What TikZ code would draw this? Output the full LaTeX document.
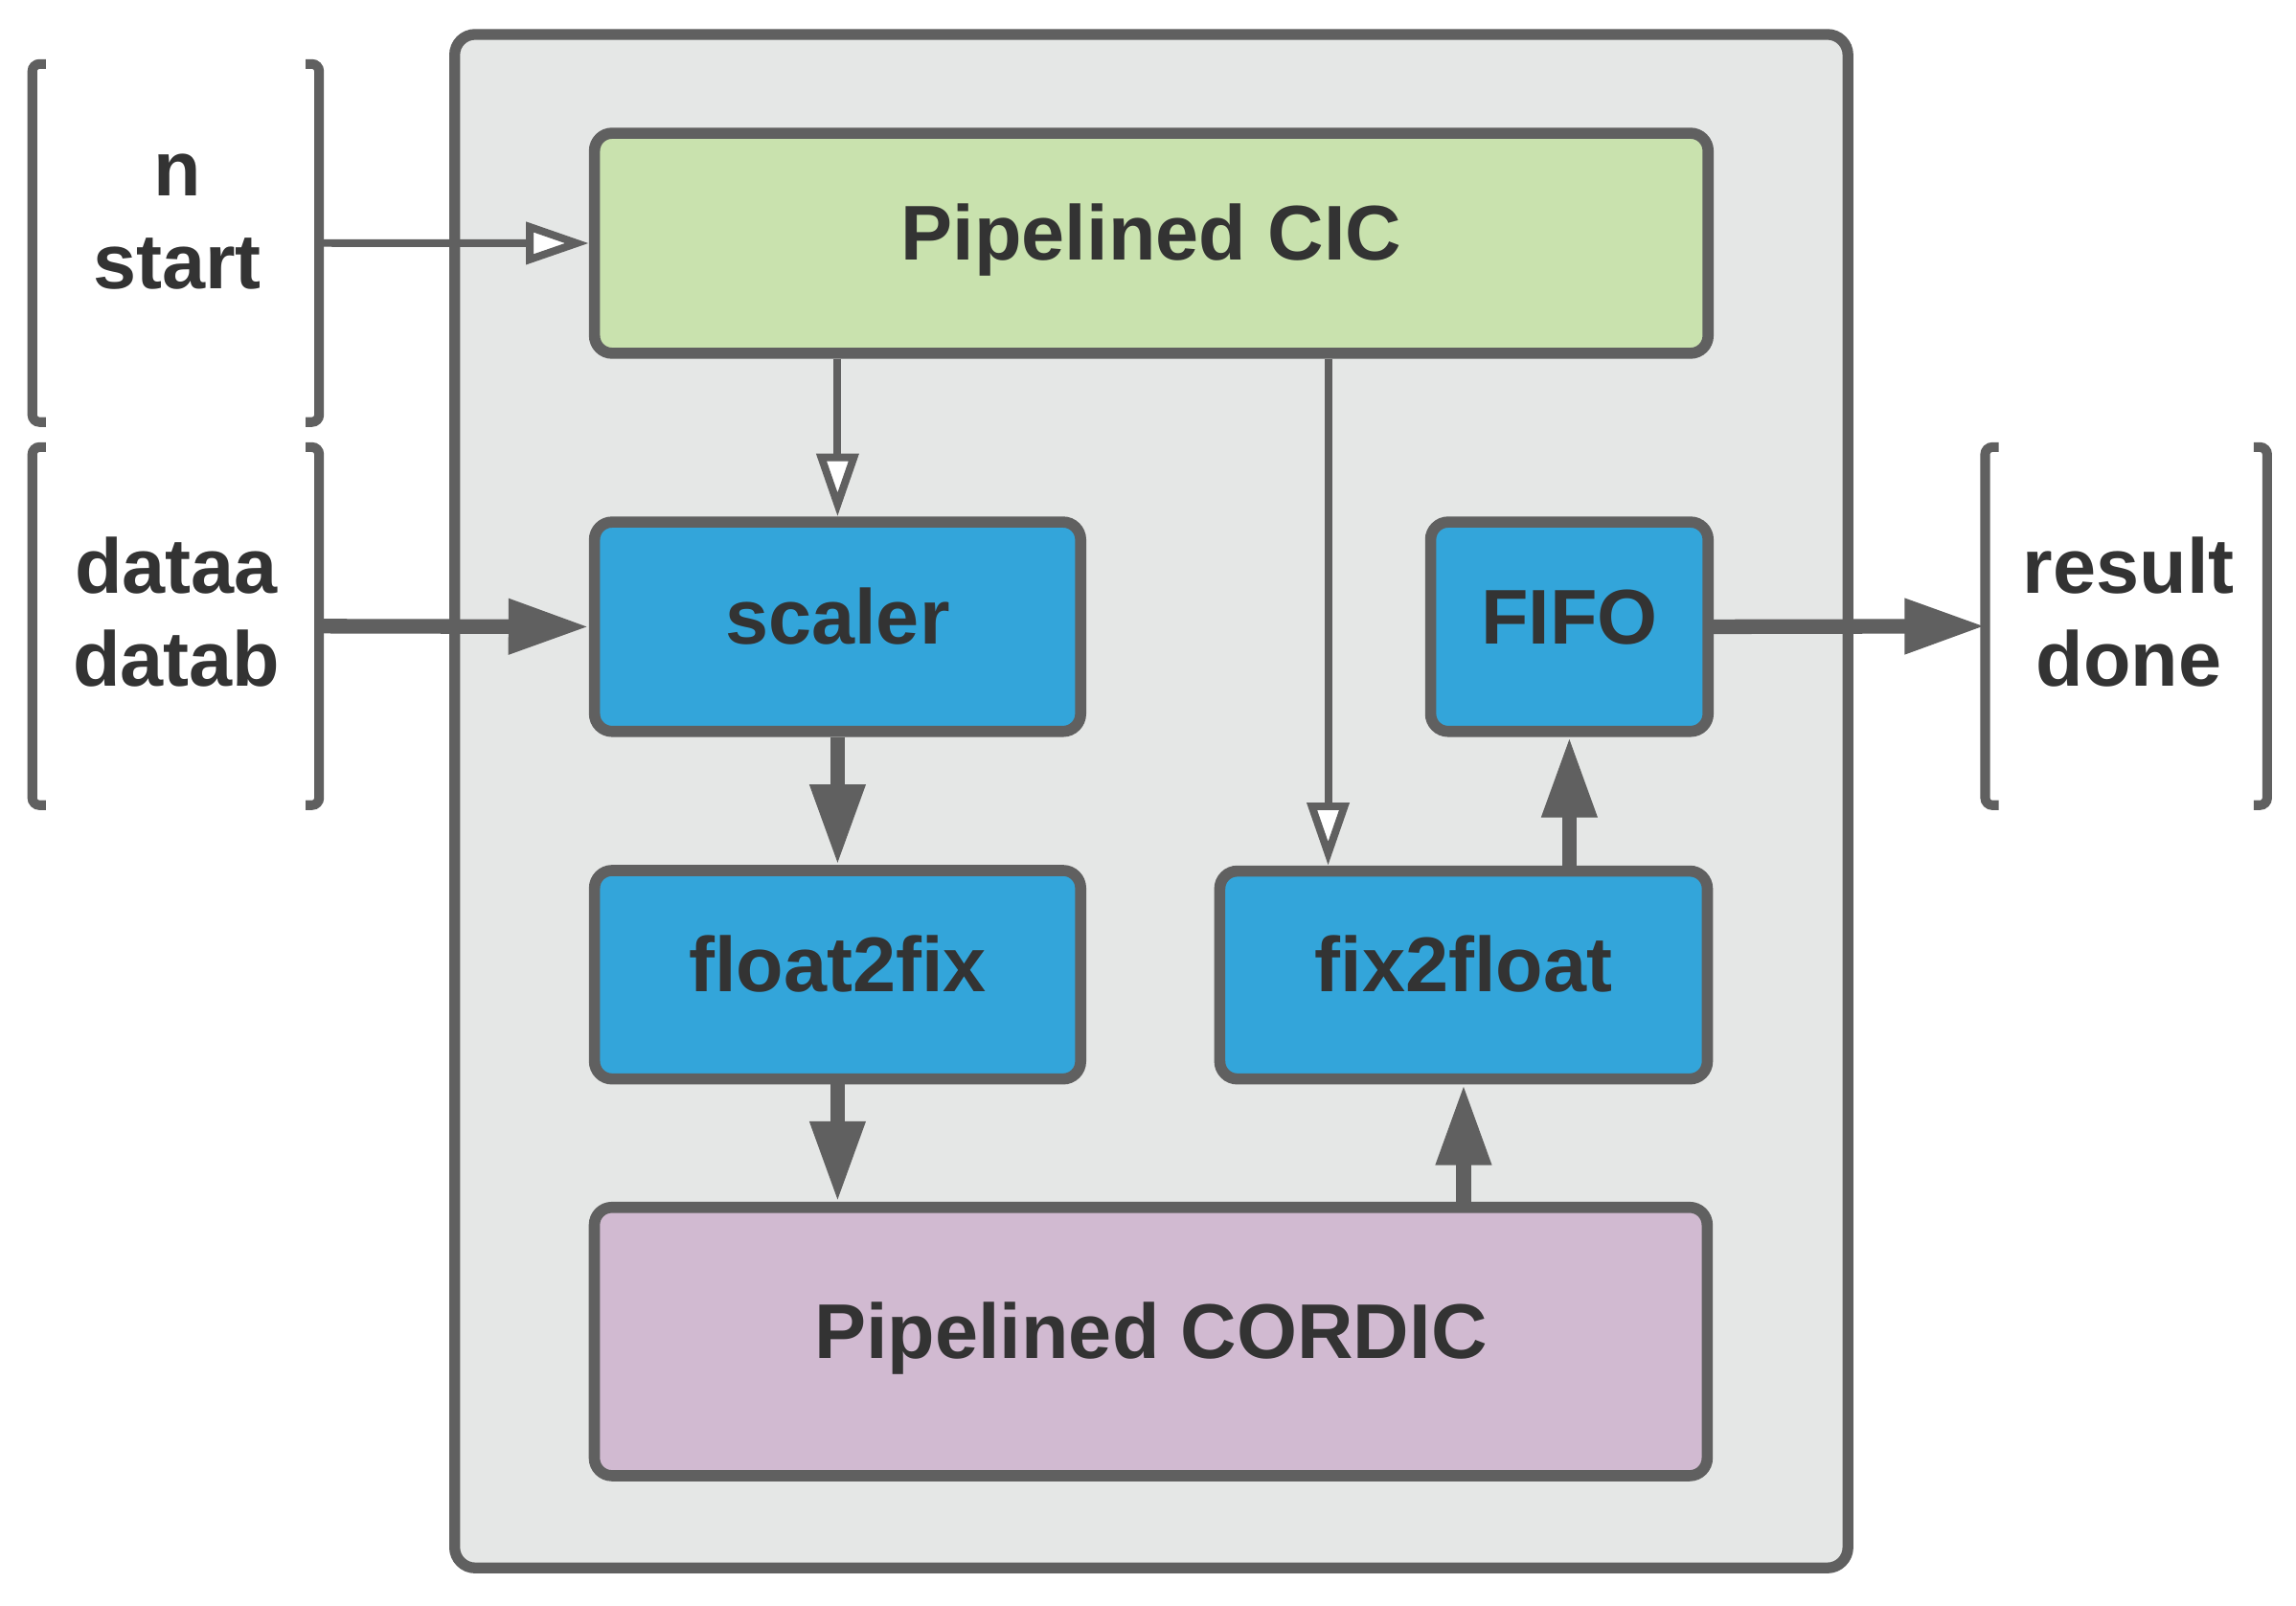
\documentclass[tikz,border=0pt]{standalone}
\usepackage{fontspec}
\setmainfont{Liberation Sans}
\usetikzlibrary{arrows.meta}

\definecolor{edgegray}{HTML}{606060}
\definecolor{coregray}{HTML}{E5E7E6}
\definecolor{cicgreen}{HTML}{C9E2AE}
\definecolor{blockblue}{HTML}{33A5DA}
\definecolor{cordicpink}{HTML}{D1BAD1}
\definecolor{labelgray}{HTML}{333333}

\newcommand{\labelfont}{\bfseries\fontsize{26.5pt}{31.9pt}\selectfont}

\tikzset{every picture/.style={line width=0.75pt},
  block/.style={draw=edgegray, line width=3.8pt, rounded corners=6pt, inner sep=0pt,
    font=\labelfont, text=labelgray, text height=18pt, text depth=6.5pt},
  ioframe/.style={inner sep=0pt, line width=3.3pt, minimum height=119pt},
  bracket/.style={draw=edgegray, line width=3.3pt, rounded corners=2.5pt},
  iolabel/.style={font=\labelfont, text=labelgray, align=center, anchor=base},
  thinflow/.style={draw=edgegray, line width=2.6pt, -{Triangle[length=21.5pt,width=14pt,fill=white]}},
  thickflow/.style={draw=edgegray, line width=5pt, -{Triangle[length=27.5pt,width=17.8pt]}}
}

\begin{document}
\begin{tikzpicture}[x=0.5pt,y=0.5pt,yscale=-1,xscale=1]
\useasboundingbox (0,0) rectangle (1568,1097);

%Shape: Rectangle [core]
\draw [draw=edgegray, fill=coregray, line width=3.7pt, rounded corners=7pt] (310.5,23.5) rectangle (1262,1071) ;

%Blocks
\node [block, fill=cicgreen, minimum width=380.25pt, minimum height=75.15pt] (cic) at (786.25,166.15) {Pipelined CIC};
\node [block, fill=blockblue, minimum width=166pt, minimum height=71.5pt] (scaler) at (572,428.1) {scaler};
\node [block, fill=blockblue, minimum width=94.75pt, minimum height=71.5pt] (fifo) at (1071.75,428.1) {FIFO};
\node [block, fill=blockblue, minimum width=166pt, minimum height=71.2pt] (float2fix) at (572,665.8) {float2fix};
\node [block, fill=blockblue, minimum width=166.5pt, minimum height=71pt] (fix2float) at (999.5,666) {fix2float};
\node [block, fill=cordicpink, minimum width=380pt, minimum height=91.65pt] (cordic) at (785.9,916.35) {Pipelined CORDIC};

%Ports
\node [ioframe, minimum width=94.65pt] (inctl) at (120,166) {};
\node [ioframe, minimum width=94.65pt] (indata) at (120,427.7) {};
\node [ioframe, minimum width=93pt] (outres) at (1452,427.7) {};
\foreach \b in {inctl,indata,outres} {
  \draw [bracket] ([xshift=4.6pt]\b.north west) -- (\b.north west) -- (\b.south west) -- ([xshift=4.6pt]\b.south west) ;
  \draw [bracket] ([xshift=-4.6pt]\b.north east) -- (\b.north east) -- (\b.south east) -- ([xshift=-4.6pt]\b.south east) ;
}

% Text Node
\node [iolabel] (ctllbl) at (121,197.3) {n\\start};
% Text Node
\node [iolabel] (datalbl) at (120.4,468.8) {dataa\\datab};
% Text Node
\node [iolabel] (reslbl) at (1453.7,468.8) {result\\done};

%Straight Lines
\coordinate (tapfix) at ([xshift=-46.25pt]fix2float.north);
\draw [thinflow] (inctl.east) -- (cic.west) ;
\draw [thinflow] (cic.south -| scaler.north) -- (scaler.north) ;
\draw [thinflow] (cic.south -| tapfix) -- (tapfix) ;
\draw [thickflow] (indata.east) -- (scaler.west) ;
\draw [thickflow] (scaler.south) -- (float2fix.north) ;
\draw [thickflow] (float2fix.south) -- (float2fix.south |- cordic.north) ;
\draw [thickflow] (cordic.north -| fix2float.south) -- (fix2float.south) ;
\draw [thickflow] (fix2float.north -| fifo.south) -- (fifo.south) ;
\draw [thickflow] (fifo.east) -- (outres.west) ;

\end{tikzpicture}
\end{document}
